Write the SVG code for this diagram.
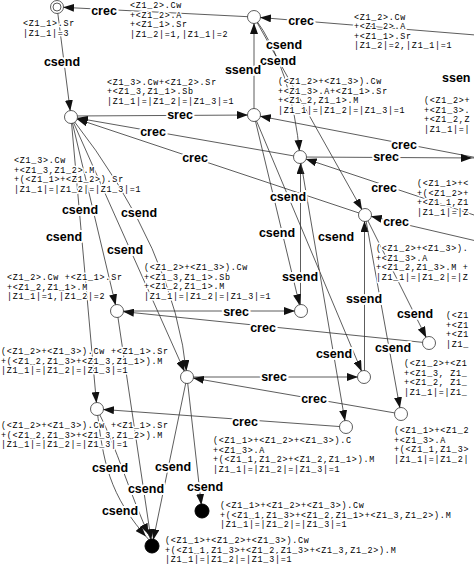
<svg xmlns="http://www.w3.org/2000/svg" width="474" height="565" viewBox="0 0 474 565">
<defs>
<style>
.e{fill:none;stroke:#333;stroke-width:0.8}
.a{marker-end:url(#ah)}
.n{fill:#fff;stroke:#333;stroke-width:0.8}
.f{fill:#000;stroke:#000}
.el{font-family:"Liberation Sans",Arial,sans-serif;font-weight:bold;font-size:12.5px;text-anchor:middle;fill:#000;stroke:#fff;stroke-width:4;paint-order:stroke;stroke-linejoin:round}
.st{font-family:"Liberation Mono","Courier New",monospace;font-size:8.4px;letter-spacing:0.76px;fill:#000;stroke:#fff;stroke-width:3;paint-order:stroke;stroke-linejoin:round}
</style>
<marker id="ah" markerUnits="userSpaceOnUse" markerWidth="12" markerHeight="8" viewBox="0 0 12 8" refX="17" refY="4" orient="auto"><path d="M0,0 L11,4 L0,8 z" fill="#111"/></marker>
</defs>
<rect width="474" height="565" fill="#fff"/>
<g id="connectors">
<path class="e a" d="M254,17 L57,7"/>
<path class="e a" d="M57,7 L71,117"/>
<path class="e a" d="M500,37 L254,17"/>
<path class="e a" d="M254,17 Q292,68 300,157"/>
<path class="e a" d="M254,17 L365,215"/>
<path class="e a" d="M254,115 L254,17"/>
<path class="e a" d="M71,116 L254,115"/>
<path class="e a" d="M300,157 L71,117"/>
<path class="e a" d="M365,215 L71,117"/>
<path class="e a" d="M478,158 L254,115"/>
<path class="e a" d="M300,157 L478,158"/>
<path class="e a" d="M480,217 L300,157"/>
<path class="e a" d="M485,243 L365,215"/>
<path class="e a" d="M300.5,311 L300.5,157"/>
<path class="e a" d="M364.5,377 L364.5,215"/>
<path class="e a" d="M254,115 L301,311"/>
<path class="e a" d="M254,115 L364,377"/>
<path class="e a" d="M365,215 L429,343"/>
<path class="e a" d="M365,215 L401,414"/>
<path class="e a" d="M300,157 L346,427"/>
<path class="e a" d="M71,117 L97,409"/>
<path class="e a" d="M71,117 L117,311"/>
<path class="e a" d="M71,117 L187,377"/>
<path class="e a" d="M71,117 Q175,250 187,377"/>
<path class="e a" d="M117,311 L301,311"/>
<path class="e a" d="M429,343 L117,311"/>
<path class="e a" d="M187,377 L364,377"/>
<path class="e a" d="M401,414 L187,377"/>
<path class="e a" d="M346,427 L97,409"/>
<path class="e a" d="M117,311 L152,546"/>
<path class="e a" d="M187,377 L152,546"/>
<path class="e a" d="M187,377 L202,511"/>
<path class="e a" d="M97,409 C103,460 108,495 150,541"/>
<path class="e a" d="M97,409 C118,450 128,490 151,540"/>
<text class="el" x="104" y="15">crec</text>
<text class="el" x="62" y="66">csend</text>
<text class="el" x="301" y="25">crec</text>
<text class="el" x="284" y="49">csend</text>
<text class="el" x="278" y="65">csend</text>
<text class="el" x="243" y="74">ssend</text>
<text class="el" x="442" y="82" style="text-anchor:start">ssen</text>
<text class="el" x="180" y="119">srec</text>
<text class="el" x="153" y="136">crec</text>
<text class="el" x="195" y="162">crec</text>
<text class="el" x="404" y="149">crec</text>
<text class="el" x="386" y="161">srec</text>
<text class="el" x="384" y="192">crec</text>
<text class="el" x="288" y="201">csend</text>
<text class="el" x="396" y="226">crec</text>
<text class="el" x="277" y="237">csend</text>
<text class="el" x="336" y="241">csend</text>
<text class="el" x="300" y="281">ssend</text>
<text class="el" x="364" y="303">ssend</text>
<text class="el" x="80" y="214">csend</text>
<text class="el" x="139" y="217">csend</text>
<text class="el" x="64" y="241">csend</text>
<text class="el" x="125" y="254">csend</text>
<text class="el" x="415" y="318">csend</text>
<text class="el" x="393" y="352">csend</text>
<text class="el" x="334" y="358">csend</text>
<text class="el" x="236" y="316">srec</text>
<text class="el" x="263" y="332">crec</text>
<text class="el" x="274" y="381">srec</text>
<text class="el" x="314" y="403">crec</text>
<text class="el" x="245" y="426">crec</text>
<text class="el" x="110" y="472">csend</text>
<text class="el" x="173" y="471">csend</text>
<text class="el" x="146" y="493">csend</text>
<text class="el" x="205" y="491">csend</text>
<text class="el" x="120" y="515">csend</text>
</g>
<g id="n1"><circle class="n" cx="57" cy="7" r="6.5"/><circle class="n" cx="57" cy="7" r="4"/>
<text class="st" x="23" y="26"><tspan x="23">&lt;Z1_1&gt;.Sr</tspan><tspan x="23" dy="9.6">|Z1_1|=3</tspan></text></g>
<g id="n2"><circle class="n" cx="71" cy="117" r="6.5"/>
<text class="st" x="14" y="163"><tspan x="14">&lt;Z1_3&gt;.Cw</tspan><tspan x="14" dy="9.6">+&lt;Z1_3,Z1_2&gt;.M</tspan><tspan x="14" dy="9.6">+(&lt;Z1_1&gt;+&lt;Z1_2&gt;).Sr</tspan><tspan x="14" dy="9.6">|Z1_1|=|Z1_2|=|Z1_3|=1</tspan></text></g>
<g id="n3"><circle class="n" cx="254" cy="17" r="6.5"/>
<text class="st" x="130" y="8"><tspan x="130">&lt;Z1_2&gt;.Cw</tspan><tspan x="130" dy="9.6">+&lt;Z1_2&gt;.A</tspan><tspan x="130" dy="9.6">+&lt;Z1_1&gt;.Sr</tspan><tspan x="130" dy="9.6">|Z1_2|=1,|Z1_1|=2</tspan></text></g>
<g id="r0"><text class="st" x="354" y="19.5"><tspan x="354">&lt;Z1_2&gt;.Cw</tspan><tspan x="354" dy="9.6">+&lt;Z1_2&gt;.A</tspan><tspan x="354" dy="9.6">+&lt;Z1_1&gt;.Sr</tspan><tspan x="354" dy="9.6">|Z1_2|=2,|Z1_1|=1</tspan></text></g>
<g id="n4"><circle class="n" cx="254" cy="115" r="6.5"/>
<text class="st" x="107" y="84.5"><tspan x="107">&lt;Z1_3&gt;.Cw+&lt;Z1_2&gt;.Sr</tspan><tspan x="107" dy="9.6">+&lt;Z1_3,Z1_1&gt;.Sb</tspan><tspan x="107" dy="9.6">|Z1_1|=|Z1_2|=|Z1_3|=1</tspan></text></g>
<g id="n5"><circle class="n" cx="300" cy="157" r="6.5"/>
<text class="st" x="278" y="84"><tspan x="278">(&lt;Z1_2&gt;+&lt;Z1_3&gt;).Cw</tspan><tspan x="278" dy="9.6">+&lt;Z1_3&gt;.A+&lt;Z1_1&gt;.Sr</tspan><tspan x="278" dy="9.6">+&lt;Z1_2,Z1_1&gt;.M</tspan><tspan x="278" dy="9.6">|Z1_1|=|Z1_2|=|Z1_3|=1</tspan></text></g>
<g id="r1"><text class="st" x="424" y="103"><tspan x="424">(&lt;Z1_2&gt;+</tspan><tspan x="424" dy="9.6">+&lt;Z1_3&gt;.</tspan><tspan x="424" dy="9.6">+&lt;Z1_2,Z</tspan><tspan x="424" dy="9.6">|Z1_1|=|</tspan></text></g>
<g id="r2"><text class="st" x="417" y="186"><tspan x="417">(&lt;Z1_1&gt;+&lt;</tspan><tspan x="417" dy="9.6">+(&lt;Z1_2&gt;+</tspan><tspan x="417" dy="9.6">+&lt;Z1_1,Z1</tspan><tspan x="417" dy="9.6">|Z1_1|=|Z</tspan></text></g>
<g id="n6"><circle class="n" cx="365" cy="215" r="6.5"/>
<text class="st" x="376" y="251"><tspan x="376">(&lt;Z1_2&gt;+&lt;Z1_3&gt;).</tspan><tspan x="376" dy="9.6">+&lt;Z1_3&gt;.A</tspan><tspan x="376" dy="9.6">+&lt;Z1_2,Z1_3&gt;.M +</tspan><tspan x="376" dy="9.6">|Z1_1|=|Z1_2|=|Z</tspan></text></g>
<g id="n7"><circle class="n" cx="117" cy="311" r="6.5"/>
<text class="st" x="7" y="280"><tspan x="7">&lt;Z1_2&gt;.Cw +&lt;Z1_1&gt;.Sr</tspan><tspan x="7" dy="9.6">+&lt;Z1_2,Z1_1&gt;.M</tspan><tspan x="7" dy="9.6">|Z1_1|=1,|Z1_2|=2</tspan></text></g>
<g id="n8"><circle class="n" cx="301" cy="311" r="6.5"/>
<text class="st" x="144" y="270"><tspan x="144">(&lt;Z1_2&gt;+&lt;Z1_3&gt;).Cw</tspan><tspan x="144" dy="9.6">+&lt;Z1_3,Z1_1&gt;.Sb</tspan><tspan x="144" dy="9.6">+&lt;Z1_2,Z1_1&gt;.M</tspan><tspan x="144" dy="9.6">|Z1_1|=|Z1_2|=|Z1_3|=1</tspan></text></g>
<g id="n9"><circle class="n" cx="429" cy="343" r="6.5"/>
<text class="st" x="446" y="318"><tspan x="446">(&lt;Z1</tspan><tspan x="446" dy="9.6">+&lt;Z1</tspan><tspan x="446" dy="9.6">+&lt;Z1</tspan><tspan x="446" dy="9.6">|Z1_</tspan></text></g>
<g id="n10"><circle class="n" cx="364" cy="377" r="6.5"/>
<text class="st" x="404" y="366"><tspan x="404">(&lt;Z1_2&gt;+&lt;Z1</tspan><tspan x="404" dy="9.6">+&lt;Z1_3, Z1_</tspan><tspan x="404" dy="9.6">+&lt;Z1_2, Z1_</tspan><tspan x="404" dy="9.6">|Z1_1|=|Z1_</tspan></text></g>
<g id="n11"><circle class="n" cx="187" cy="377" r="6.5"/>
<text class="st" x="1" y="354"><tspan x="1">(&lt;Z1_2&gt;+&lt;Z1_3&gt;).Cw +&lt;Z1_1&gt;.Sr</tspan><tspan x="1" dy="9.6">+(&lt;Z1_2,Z1_3&gt;+&lt;Z1_3,Z1_1&gt;).M</tspan><tspan x="1" dy="9.6">|Z1_1|=|Z1_2|=|Z1_3|=1</tspan></text></g>
<g id="n12"><circle class="n" cx="401" cy="414" r="6.5"/>
<text class="st" x="394" y="433"><tspan x="394">(&lt;Z1_1&gt;+&lt;Z1_2</tspan><tspan x="394" dy="9.6">+&lt;Z1_3&gt;.A</tspan><tspan x="394" dy="9.6">+(&lt;Z1_1,Z1_3&gt;</tspan><tspan x="394" dy="9.6">|Z1_1|=|Z1_2|</tspan></text></g>
<g id="n13"><circle class="n" cx="97" cy="409" r="6.5"/>
<text class="st" x="1" y="428"><tspan x="1">(&lt;Z1_2&gt;+&lt;Z1_3&gt;).Cw +&lt;Z1_1&gt;.Sr</tspan><tspan x="1" dy="9.6">+(&lt;Z1_2,Z1_3&gt;+&lt;Z1_3,Z1_2&gt;).M</tspan><tspan x="1" dy="9.6">|Z1_1|=|Z1_2|=|Z1_3|=1</tspan></text></g>
<g id="n14"><circle class="n" cx="346" cy="427" r="6.5"/>
<text class="st" x="213" y="443"><tspan x="213">(&lt;Z1_1&gt;+&lt;Z1_2&gt;+&lt;Z1_3&gt;).C</tspan><tspan x="213" dy="9.6">+&lt;Z1_3&gt;.A</tspan><tspan x="213" dy="9.6">+(&lt;Z1_1,Z1_2&gt;+&lt;Z1_2,Z1_1&gt;).M</tspan><tspan x="213" dy="9.6">|Z1_1|=|Z1_2|=|Z1_3|=1</tspan></text></g>
<g id="n15"><circle class="f" cx="202" cy="511" r="7"/>
<text class="st" x="220" y="508"><tspan x="220">(&lt;Z1_1&gt;+&lt;Z1_2&gt;+&lt;Z1_3&gt;).Cw</tspan><tspan x="220" dy="9.6">+(&lt;Z1_1,Z1_3&gt;+&lt;Z1_2,Z1_1&gt;+&lt;Z1_3,Z1_2&gt;).M</tspan><tspan x="220" dy="9.6">|Z1_1|=|Z1_2|=|Z1_3|=1</tspan></text></g>
<g id="n16"><circle class="f" cx="152" cy="546" r="7"/>
<text class="st" x="165" y="543"><tspan x="165">(&lt;Z1_1&gt;+&lt;Z1_2&gt;+&lt;Z1_3&gt;).Cw</tspan><tspan x="165" dy="9.6">+(&lt;Z1_1,Z1_3&gt;+&lt;Z1_2,Z1_3&gt;+&lt;Z1_3,Z1_2&gt;).M</tspan><tspan x="165" dy="9.6">|Z1_1|=|Z1_2|=|Z1_3|=1</tspan></text></g>
</svg>
